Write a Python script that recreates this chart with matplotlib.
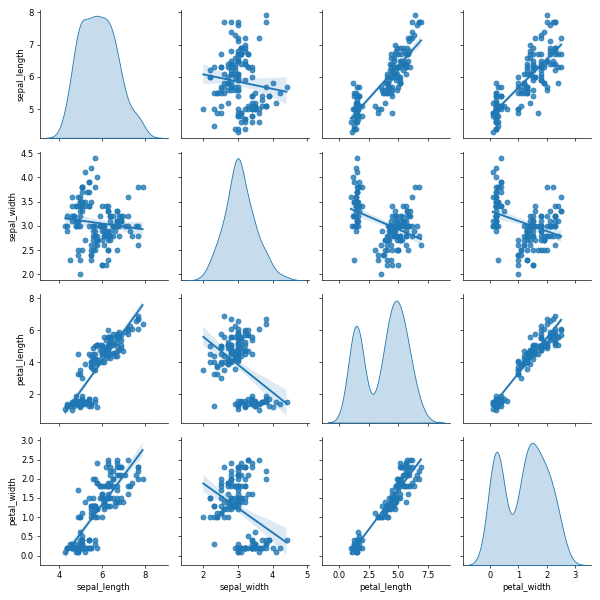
import matplotlib
matplotlib.use("Agg")
import matplotlib.pyplot as plt
import pandas as pd
import seaborn as sns

# Fisher's iris measurements (150 flowers)
sepal_length = [
    5.1, 4.9, 4.7, 4.6, 5.0, 5.4, 4.6, 5.0, 4.4, 4.9, 5.4, 4.8, 4.8, 4.3, 5.8, 5.7, 5.4, 5.1, 5.7, 5.1,
    5.4, 5.1, 4.6, 5.1, 4.8, 5.0, 5.0, 5.2, 5.2, 4.7, 4.8, 5.4, 5.2, 5.5, 4.9, 5.0, 5.5, 4.9, 4.4, 5.1,
    5.0, 4.5, 4.4, 5.0, 5.1, 4.8, 5.1, 4.6, 5.3, 5.0,
    7.0, 6.4, 6.9, 5.5, 6.5, 5.7, 6.3, 4.9, 6.6, 5.2, 5.0, 5.9, 6.0, 6.1, 5.6, 6.7, 5.6, 5.8, 6.2, 5.6,
    5.9, 6.1, 6.3, 6.1, 6.4, 6.6, 6.8, 6.7, 6.0, 5.7, 5.5, 5.5, 5.8, 6.0, 5.4, 6.0, 6.7, 6.3, 5.6, 5.5,
    5.5, 6.1, 5.8, 5.0, 5.6, 5.7, 5.7, 6.2, 5.1, 5.7,
    6.3, 5.8, 7.1, 6.3, 6.5, 7.6, 4.9, 7.3, 6.7, 7.2, 6.5, 6.4, 6.8, 5.7, 5.8, 6.4, 6.5, 7.7, 7.7, 6.0,
    6.9, 5.6, 7.7, 6.3, 6.7, 7.2, 6.2, 6.1, 6.4, 7.2, 7.4, 7.9, 6.4, 6.3, 6.1, 7.7, 6.3, 6.4, 6.0, 6.9,
    6.7, 6.9, 5.8, 6.8, 6.7, 6.7, 6.3, 6.5, 6.2, 5.9,
]
sepal_width = [
    3.5, 3.0, 3.2, 3.1, 3.6, 3.9, 3.4, 3.4, 2.9, 3.1, 3.7, 3.4, 3.0, 3.0, 4.0, 4.4, 3.9, 3.5, 3.8, 3.8,
    3.4, 3.7, 3.6, 3.3, 3.4, 3.0, 3.4, 3.5, 3.4, 3.2, 3.1, 3.4, 4.1, 4.2, 3.1, 3.2, 3.5, 3.6, 3.0, 3.4,
    3.5, 2.3, 3.2, 3.5, 3.8, 3.0, 3.8, 3.2, 3.7, 3.3,
    3.2, 3.2, 3.1, 2.3, 2.8, 2.8, 3.3, 2.4, 2.9, 2.7, 2.0, 3.0, 2.2, 2.9, 2.9, 3.1, 3.0, 2.7, 2.2, 2.5,
    3.2, 2.8, 2.5, 2.8, 2.9, 3.0, 2.8, 3.0, 2.9, 2.6, 2.4, 2.4, 2.7, 2.7, 3.0, 3.4, 3.1, 2.3, 3.0, 2.5,
    2.6, 3.0, 2.6, 2.3, 2.7, 3.0, 2.9, 2.9, 2.5, 2.8,
    3.3, 2.7, 3.0, 2.9, 3.0, 3.0, 2.5, 2.9, 2.5, 3.6, 3.2, 2.7, 3.0, 2.5, 2.8, 3.2, 3.0, 3.8, 2.6, 2.2,
    3.2, 2.8, 2.8, 2.7, 3.3, 3.2, 2.8, 3.0, 2.8, 3.0, 2.8, 3.8, 2.8, 2.8, 2.6, 3.0, 3.4, 3.1, 3.0, 3.1,
    3.1, 3.1, 2.7, 3.2, 3.3, 3.0, 2.5, 3.0, 3.4, 3.0,
]
petal_length = [
    1.4, 1.4, 1.3, 1.5, 1.4, 1.7, 1.4, 1.5, 1.4, 1.5, 1.5, 1.6, 1.4, 1.1, 1.2, 1.5, 1.3, 1.4, 1.7, 1.5,
    1.7, 1.5, 1.0, 1.7, 1.9, 1.6, 1.6, 1.5, 1.4, 1.6, 1.6, 1.5, 1.5, 1.4, 1.5, 1.2, 1.3, 1.4, 1.3, 1.5,
    1.3, 1.3, 1.3, 1.6, 1.9, 1.4, 1.6, 1.4, 1.5, 1.4,
    4.7, 4.5, 4.9, 4.0, 4.6, 4.5, 4.7, 3.3, 4.6, 3.9, 3.5, 4.2, 4.0, 4.7, 3.6, 4.4, 4.5, 4.1, 4.5, 3.9,
    4.8, 4.0, 4.9, 4.7, 4.3, 4.4, 4.8, 5.0, 4.5, 3.5, 3.8, 3.7, 3.9, 5.1, 4.5, 4.5, 4.7, 4.4, 4.1, 4.0,
    4.4, 4.6, 4.0, 3.3, 4.2, 4.2, 4.2, 4.3, 3.0, 4.1,
    6.0, 5.1, 5.9, 5.6, 5.8, 6.6, 4.5, 6.3, 5.8, 6.1, 5.1, 5.3, 5.5, 5.0, 5.1, 5.3, 5.5, 6.7, 6.9, 5.0,
    5.7, 4.9, 6.7, 4.9, 5.7, 6.0, 4.8, 4.9, 5.6, 5.8, 6.1, 6.4, 5.6, 5.1, 5.6, 6.1, 5.6, 5.5, 4.8, 5.4,
    5.6, 5.1, 5.1, 5.9, 5.7, 5.2, 5.0, 5.2, 5.4, 5.1,
]
petal_width = [
    0.2, 0.2, 0.2, 0.2, 0.2, 0.4, 0.3, 0.2, 0.2, 0.1, 0.2, 0.2, 0.1, 0.1, 0.2, 0.4, 0.4, 0.3, 0.3, 0.3,
    0.2, 0.4, 0.2, 0.5, 0.2, 0.2, 0.4, 0.2, 0.2, 0.2, 0.2, 0.4, 0.1, 0.2, 0.2, 0.2, 0.2, 0.1, 0.2, 0.2,
    0.3, 0.3, 0.2, 0.6, 0.4, 0.3, 0.2, 0.2, 0.2, 0.2,
    1.4, 1.5, 1.5, 1.3, 1.5, 1.3, 1.6, 1.0, 1.3, 1.4, 1.0, 1.5, 1.0, 1.4, 1.3, 1.4, 1.5, 1.0, 1.5, 1.1,
    1.8, 1.3, 1.5, 1.2, 1.3, 1.4, 1.4, 1.7, 1.5, 1.0, 1.1, 1.0, 1.2, 1.6, 1.5, 1.6, 1.5, 1.3, 1.3, 1.3,
    1.2, 1.4, 1.2, 1.0, 1.3, 1.2, 1.3, 1.3, 1.1, 1.3,
    2.5, 1.9, 2.1, 1.8, 2.2, 2.1, 1.7, 1.8, 1.8, 2.5, 2.0, 1.9, 2.1, 2.0, 2.4, 2.3, 1.8, 2.2, 2.3, 1.5,
    2.3, 2.0, 2.0, 1.8, 2.1, 1.8, 1.8, 1.8, 2.1, 1.6, 1.9, 2.0, 2.2, 1.5, 1.4, 2.3, 2.4, 1.8, 1.8, 2.1,
    2.4, 2.3, 1.9, 2.3, 2.5, 2.3, 1.9, 2.0, 2.3, 1.8,
]

iris = pd.DataFrame({
    "sepal_length": sepal_length,
    "sepal_width": sepal_width,
    "petal_length": petal_length,
    "petal_width": petal_width,
})

g = sns.pairplot(iris, kind="reg", diag_kind="kde", height=2.5)
g.figure.set_size_inches(10, 10)
g.figure.tight_layout()
g.figure.savefig("out.png", dpi=60)
plt.close(g.figure)
